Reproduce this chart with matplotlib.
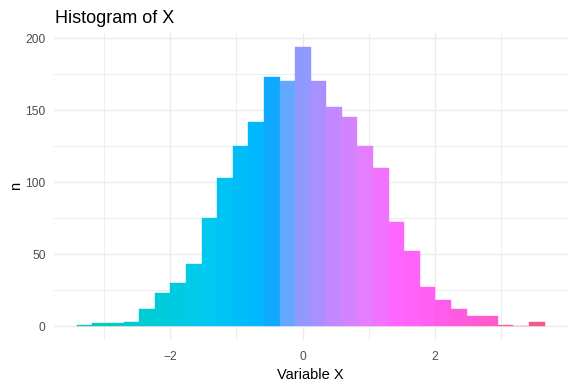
import matplotlib.pyplot as plt
import numpy as np
from matplotlib.colors import LinearSegmentedColormap, Normalize

# histogram counts (30 bins)
counts = [1, 2, 2, 3, 12, 23, 30, 43, 75, 103,
          125, 142, 173, 170, 194, 170, 152, 145, 125, 110,
          72, 52, 27, 18, 12, 7, 7, 1, 0, 3]
x_start = -3.41
bin_w = 0.2354

x_ticks = [-2, 0, 2]
y_ticks = [0, 50, 100, 150, 200]

# fill gradient along x
grad_x = [-3.29, -2.35, -1.41, -0.70, -0.47, -0.23, 0.0, 0.47, 0.94, 1.41, 2.12, 2.82, 3.53]
grad_c = ['#12C6B4', '#00CCD4', '#00C8F0', '#00B8FF', '#10A8FF', '#66A8FF', '#9199FF',
          '#C288FF', '#E47EFF', '#FF66FF', '#FF5CEC', '#FF5AC8', '#EE5C8A']

plt.rcParams['font.family'] = ['Liberation Sans', 'DejaVu Sans']

centers = x_start + bin_w * (np.arange(len(counts)) + 0.5)
lo, hi = grad_x[0], grad_x[-1]
cmap = LinearSegmentedColormap.from_list(
    'xfill', [((g - lo) / (hi - lo), c) for g, c in zip(grad_x, grad_c)])
colors = cmap(Normalize(lo, hi)(centers))

fig = plt.figure(figsize=(6, 4), dpi=96)
ax = fig.add_axes([0.0929, 0.1146, 0.8931, 0.8002])

ax.bar(centers, counts, width=bin_w, color=colors, edgecolor=colors,
       linewidth=0.3, zorder=3)

x0, x1 = x_start, x_start + bin_w * len(counts)
pad_x = (x1 - x0) * 0.05
ax.set_xlim(x0 - pad_x, x1 + pad_x)
ymax = max(counts)
ax.set_ylim(-ymax * 0.05, ymax * 1.05)

ax.set_xticks(x_ticks)
ax.set_xticks([-3, -1, 1, 3], minor=True)
ax.set_yticks(y_ticks)
ax.set_yticks([25, 75, 125, 175], minor=True)
ax.grid(which='major', color='#EBEBEB', linewidth=1.0, zorder=0)
ax.grid(which='minor', color='#EEEEEE', linewidth=0.8, zorder=0)
ax.tick_params(which='both', length=0, colors='#4D4D4D', labelsize=9, pad=6)
ax.tick_params(axis='x', pad=8)
for s in ax.spines.values():
    s.set_visible(False)

ax.set_xlabel('Variable X', fontsize=11, color='black', labelpad=4)
ax.set_ylabel('n', fontsize=11, color='black', labelpad=2)
ax.set_title('Histogram of X', fontsize=13.5, loc='left', x=0.003, pad=7)

fig.savefig('out.png', dpi=96)
